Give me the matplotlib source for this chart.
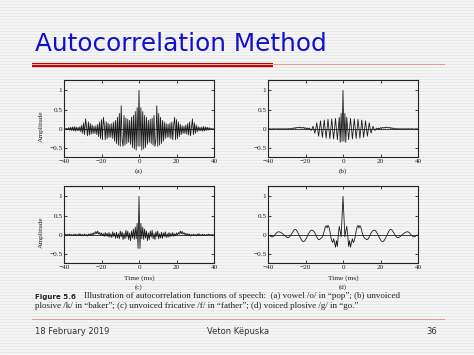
import numpy as np
import matplotlib
matplotlib.use("Agg")
import matplotlib.pyplot as plt
from matplotlib.patches import Rectangle

# lags 0..40 ms in 0.5 ms steps; autocorrelation is symmetric so only one side is stored
lag_half = np.arange(0, 40.5, 0.5)

# (a) vowel /o/ in "pop"
vowel_o = [1.00, -0.45, 0.55, -0.55, 0.45, -0.52, 0.35, -0.48, 0.30, -0.40,
           0.22, -0.35, 0.25, -0.38, 0.28, -0.42, 0.35, -0.45, -0.30, 0.60,
           -0.45, 0.40, -0.42, 0.30, -0.38, 0.22, -0.32, 0.18, -0.25, 0.14,
           -0.22, 0.12, -0.22, 0.15, -0.25, 0.18, -0.28, 0.10, 0.30, -0.28,
           0.24, -0.25, 0.18, -0.20, 0.12, -0.15, 0.08, -0.12, 0.07, -0.12,
           0.10, -0.14, 0.14, -0.16, 0.18, -0.18, 0.06, 0.26, -0.15, 0.16,
           -0.12, 0.10, -0.08, 0.06, -0.05, 0.04, -0.05, 0.05, -0.06, 0.06,
           -0.05, 0.05, -0.04, 0.04, -0.03, 0.03, -0.01, 0.01, 0.0, 0.0, 0.0]

# (b) unvoiced plosive /k/ in "baker"
plosive_k = [1.00, -0.32, 0.40, -0.35, 0.30, 0.02, -0.28, -0.02, 0.27, 0.02,
             -0.26, -0.02, 0.26, 0.02, -0.25, -0.02, 0.25, 0.02, -0.24, -0.02,
             0.23, 0.02, -0.22, -0.02, 0.21, 0.02, -0.19, -0.02, 0.16, 0.01,
             -0.11, -0.01, 0.07, 0.0, -0.04, 0.0, 0.02, -0.01, 0.02, 0.0,
             0.03, 0.01, 0.04, 0.02, 0.04, 0.02, 0.05, 0.03, 0.04, 0.02,
             0.04, 0.01, 0.03, 0.01, 0.02, 0.0, 0.01, -0.01, 0.01, 0.0,
             0.0, 0.005, -0.005, 0.0, 0.005, 0.0, -0.005, 0.005, 0.0, 0.0,
             0.005, -0.005, 0.0, 0.0, 0.005, 0.0, -0.005, 0.0, 0.0, 0.0, 0.0]

# (c) unvoiced fricative /f/ in "father"
fricative_f = [1.0, -0.35, 0.3, -0.1, 0.2, -0.12, 0.15, -0.08, 0.1, -0.15,
               0.05, -0.12, 0.1, -0.06, 0.12, -0.1, 0.04, -0.12, 0.08, -0.05,
               0.1, -0.1, 0.03, -0.08, 0.07, -0.09, 0.05, -0.04, 0.08, -0.07,
               0.03, -0.06, 0.06, -0.05, 0.04, -0.03, 0.06, -0.04, 0.03, -0.02,
               0.05, -0.01, 0.06, 0.02, 0.1, 0.03, 0.09, 0.02, 0.06, 0.0,
               0.04, -0.02, 0.03, -0.01, 0.02, -0.03, 0.01, -0.02, 0.02, -0.01,
               0.01, -0.03, 0.02, -0.01, 0.03, -0.02, 0.01, -0.02, 0.02, -0.01,
               0.01, -0.02, 0.01, -0.01, 0.02, 0.0, 0.01, -0.01, 0.01, 0.0, 0.0]

# (d) voiced plosive /g/ in "go"
plosive_g = [1.0, 0.45, -0.05, 0.1, 0.22, 0.0, -0.3, -0.15, -0.32, -0.2,
             -0.1, -0.2, -0.15, -0.05, 0.1, 0.2, 0.25, 0.18, 0.24, 0.2,
             0.1, 0.02, -0.05, -0.08, -0.1, -0.12, -0.12, -0.1, -0.05, 0.0,
             0.05, 0.09, 0.11, 0.12, 0.12, 0.1, 0.06, 0.02, -0.03, -0.08,
             -0.13, -0.16, -0.17, -0.17, -0.14, -0.1, -0.05, 0.0, 0.05, 0.1,
             0.13, 0.14, 0.13, 0.1, 0.06, 0.02, -0.02, -0.05, -0.07, -0.07,
             -0.06, -0.04, -0.02, 0.0, 0.02, 0.04, 0.06, 0.07, 0.08, 0.08,
             0.07, 0.05, 0.02, -0.01, -0.03, -0.05, -0.05, -0.04, -0.02, -0.01, 0.0]

panel_tags = ["(a)", "(b)", "(c)", "(d)"]
x_ticks = [-40, -20, 0, 20, 40]
x_tick_labels = ["\u221240", "\u221220", "0", "20", "40"]
y_ticks = [-0.5, 0, 0.5, 1]
y_tick_labels = ["\u22120.5", "0", "0.5", "1"]

title_text = "Autocorrelation Method"
caption_bold = "Figure 5.6"
caption_1 = "Illustration of autocorrelation functions of speech:  (a) vowel /o/ in \u201cpop\u201d; (b) unvoiced"
caption_2 = "plosive /k/ in \u201cbaker\u201d; (c) unvoiced fricative /f/ in \u201cfather\u201d; (d) voiced plosive /g/ in \u201cgo.\u201d"
footer = ["18 February 2019", "Veton K\u00ebpuska", "36"]

W, H = 474, 355
plt.rcParams['font.family'] = ['Liberation Serif', 'DejaVu Serif']

fig = plt.figure(figsize=(W / 100, H / 100), dpi=100)
fig.patch.set_facecolor('#f5f5f5')

# slide background with the faint horizontal stripes
bg = fig.add_axes([0, 0, 1, 1], zorder=0)
bg.set_xlim(0, W)
bg.set_ylim(H, 0)
bg.axis('off')
bg.hlines(np.arange(1, H, 3), 0, W, color='#e6e6e6', lw=0.6)

bg.text(35, 44, title_text, fontsize=17.8, color='#1010cc', va='center',
        family='DejaVu Sans')
bg.add_patch(Rectangle((32, 63), 241, 5, color='#cc0000', lw=0))
bg.plot([273, 444], [64, 64], color='#e29a9a', lw=0.8)
bg.plot([32, 444], [319, 319], color='#e29a9a', lw=0.8)

bg.text(35, 296.5, caption_bold, fontsize=5.1, fontweight='bold',
        family='DejaVu Sans', color='#222222', va='center')
bg.text(84, 296.5, caption_1, fontsize=6.5, color='#222222', va='center')
bg.text(35, 306, caption_2, fontsize=6.5, color='#222222', va='center')

bg.text(35, 331, footer[0], fontsize=6, family='DejaVu Sans', color='#333333', va='center')
bg.text(238, 331, footer[1], fontsize=6, family='DejaVu Sans', color='#333333',
        va='center', ha='center')
bg.text(437, 331, footer[2], fontsize=6, family='DejaVu Sans', color='#333333',
        va='center', ha='right')


def px_axes(left, top, right, bottom):
    return fig.add_axes([left / W, 1 - bottom / H, (right - left) / W, (bottom - top) / H],
                        zorder=1)


boxes = [(64, 80, 214, 157), (268, 80, 418, 157),
         (64, 186, 214, 263), (268, 186, 418, 263)]
series = [vowel_o, plosive_k, fricative_f, plosive_g]

lags = np.concatenate([-lag_half[:0:-1], lag_half])

for i, (box, vals) in enumerate(zip(boxes, series)):
    vals = np.asarray(vals)
    full = np.concatenate([vals[:0:-1], vals])
    ax = px_axes(*box)
    ax.set_facecolor('none')
    ax.axhline(0, color='#222222', lw=0.6)
    ax.plot(lags, full, color='#1a1a1a', lw=0.6)
    ax.set_xlim(-40, 40)
    ax.set_ylim(-0.73, 1.27)
    ax.set_xticks(x_ticks)
    ax.set_xticklabels(x_tick_labels)
    ax.set_yticks(y_ticks)
    ax.set_yticklabels(y_tick_labels)
    ax.tick_params(direction='in', length=2.5, width=0.6, top=True, right=True,
                   labelsize=5.2, pad=1.2, colors='#222222')
    for sp in ax.spines.values():
        sp.set_linewidth(0.8)
        sp.set_color('#222222')
    cx = (box[0] + box[2]) / 2
    if i < 2:
        bg.text(cx, 171, panel_tags[i], fontsize=5.2, ha='center', va='center', color='#222222')
    else:
        bg.text(cx, 278.5, "Time (ms)", fontsize=5.3, ha='center', va='center', color='#222222')
        bg.text(cx, 287, panel_tags[i], fontsize=5, ha='center', va='center', color='#222222')
    if i in (0, 2):
        bg.text(41, box[1] + 46, "Amplitude", fontsize=5.3, rotation=90,
                ha='center', va='center', color='#222222')

fig.savefig("out.png", dpi=100, facecolor=fig.get_facecolor())
